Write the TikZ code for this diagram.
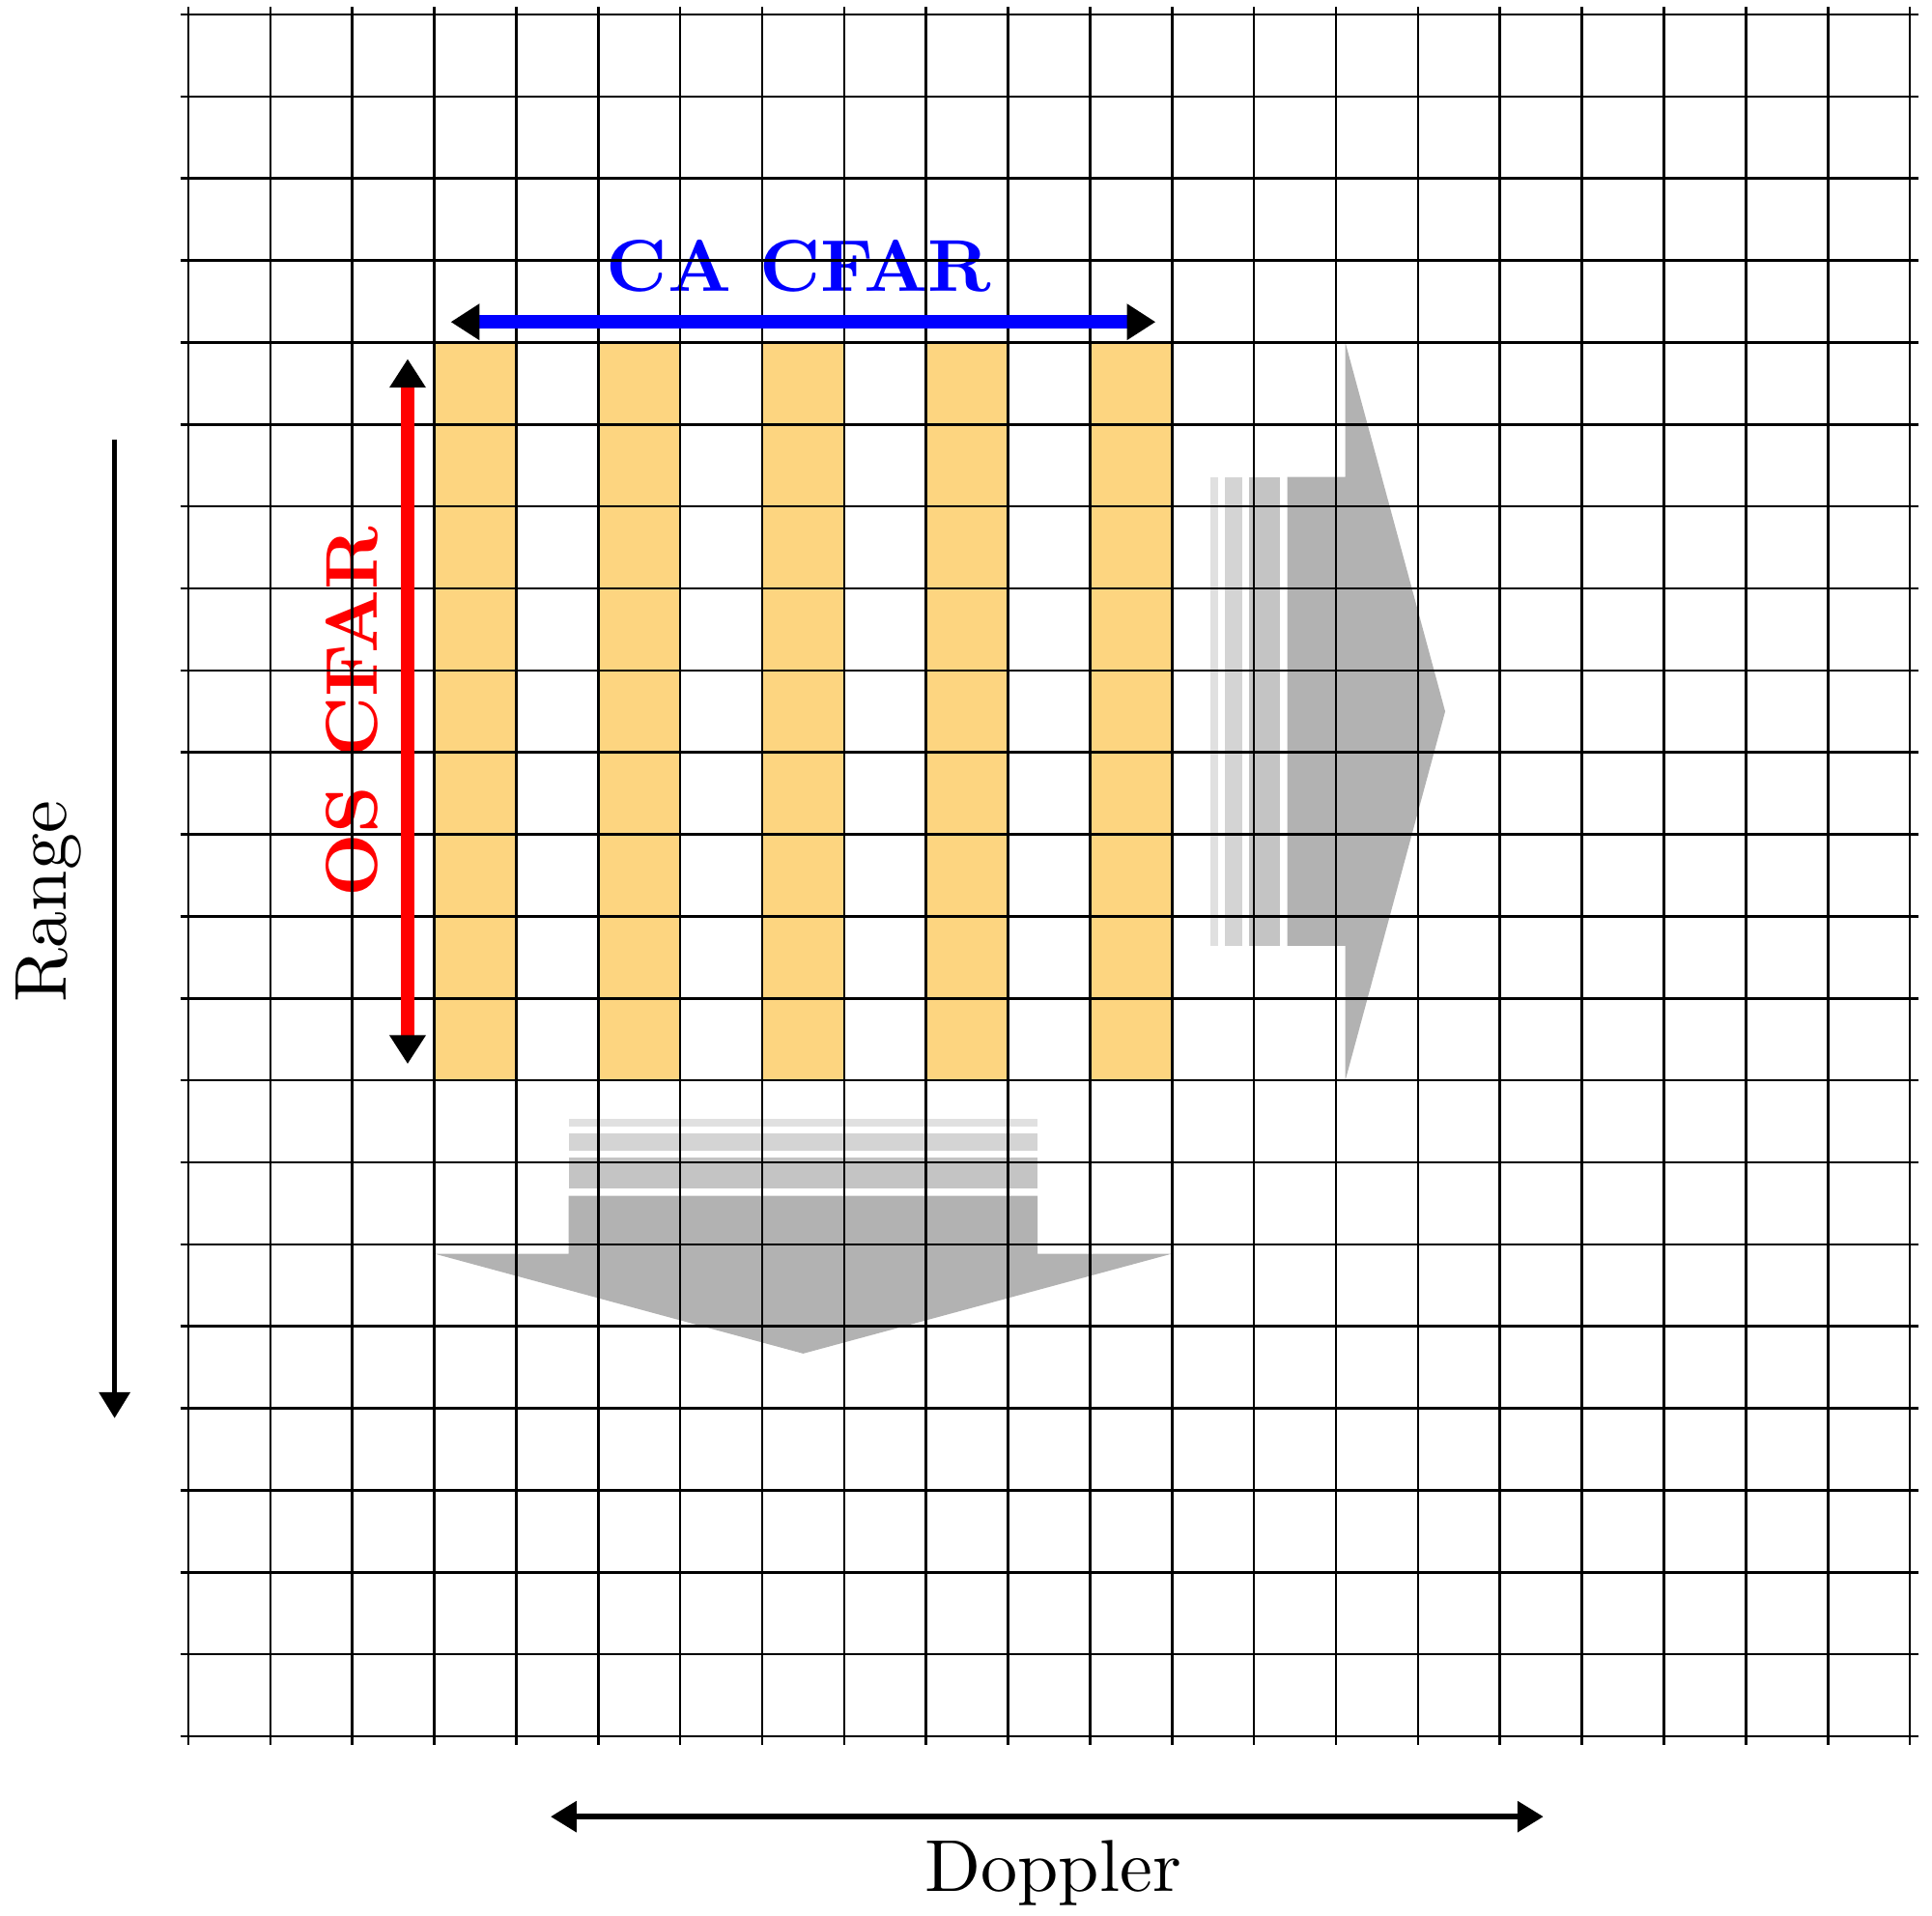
\documentclass[tikz,border=0pt]{standalone}
\usetikzlibrary{arrows.meta}
\definecolor{cellfill}{RGB}{253,213,128}
\tikzset{
	gridline/.style={line width=0.9pt},
	cfar/.style={line width=4.7pt,>={Triangle[length=10pt,width=12pt,color=black]},<->},
	axisline/.style={line width=1.8pt,>={Triangle[length=9pt,width=10.5pt]}},
	bigtext/.style={scale=2.55},
	blurarrow/.pic={
		\fill[black!12] (0.464,-2.86) rectangle (0.558,2.86);
		\fill[black!17] (0.648,-2.86) rectangle (0.857,2.86);
		\fill[black!23] (0.943,-2.86) rectangle (1.32,2.86);
		\fill[black!30] (1.407,-2.86) -- (2.114,-2.86) -- (2.114,-4.5) -- (3.332,0)
			-- (2.114,4.5) -- (2.114,2.86) -- (1.407,2.86) -- cycle;
	}
}
\begin{document}
\begin{tikzpicture}
	\useasboundingbox (-2.298,-2.191) rectangle (21.271,21.177);
	% window columns
	\foreach \c in {3,5,7,9,11}
		\fill[cellfill] (\c,8) rectangle ++(1,9);
	% sliding directions
	\pic at (12,12.5) {blurarrow};
	\pic[rotate=-90] at (7.5,8) {blurarrow};
	\node[bigtext,text=blue,font=\bfseries] (ca) at (7.45,17.93) {CA CFAR};
	\node[bigtext,text=red,font=\bfseries,rotate=90] (os) at (2.0,12.5) {OS CFAR};
	% range-doppler grid
	\foreach \i in {0,...,21}{
		\draw[gridline] (\i,-0.1) -- (\i,21.1);
		\draw[gridline] (-0.1,\i) -- (21.1,\i);
	}
	\coordinate (caL) at (3.2,17.25);
	\coordinate (caR) at (11.8,17.25);
	\coordinate (osT) at (2.675,16.8);
	\coordinate (osB) at (2.675,8.2);
	\draw[cfar,blue] (caL) -- (caR);
	\draw[cfar,red] (osT) -- (osB);
	% axes
	\coordinate (rgT) at (-0.9,15.82);
	\coordinate (rgB) at (-0.9,3.88);
	\coordinate (dpL) at (4.42,-0.98);
	\coordinate (dpR) at (16.53,-0.98);
	\draw[axisline,->] (rgT) -- (rgB);
	\draw[axisline,<->] (dpL) -- (dpR);
	\node[bigtext,rotate=90] (range) at (-1.71,10.18) {Range};
	\node[bigtext] (doppler) at (10.55,-1.67) {Doppler};
\end{tikzpicture}
\end{document}
